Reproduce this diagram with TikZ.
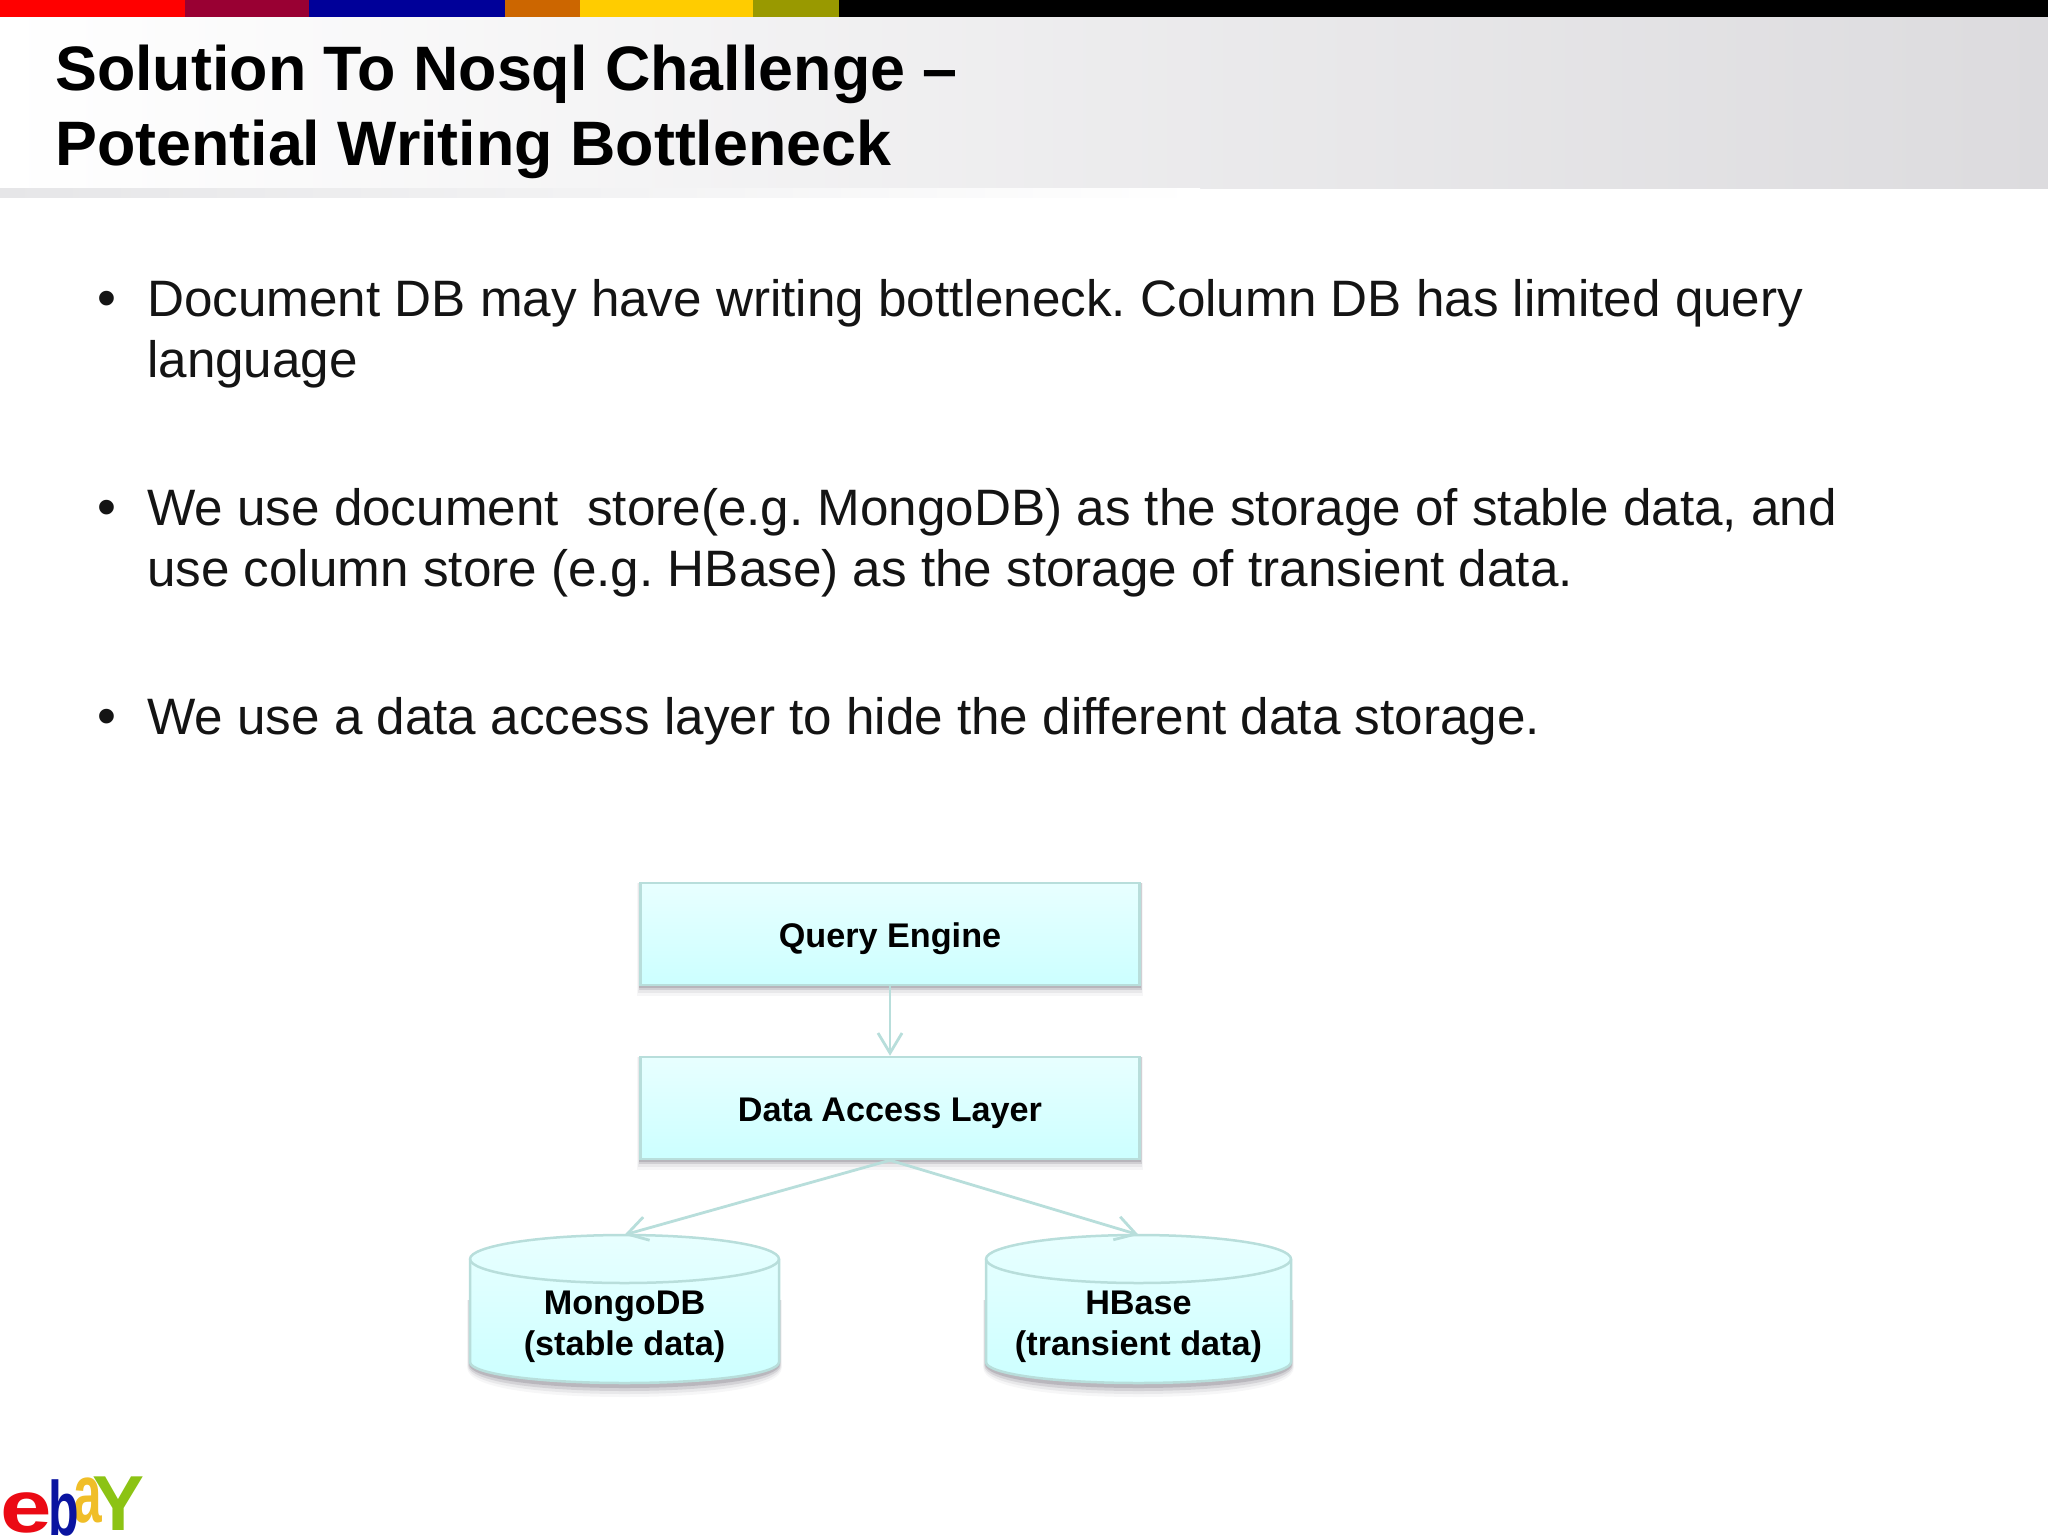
\documentclass[tikz,border=0pt]{standalone}
\usepackage{fontspec}
\setmainfont{Liberation Sans}
\usetikzlibrary{arrows.meta}
\frenchspacing
\definecolor{edgeC}{HTML}{B8DEDB}
\definecolor{boxTop}{HTML}{E8FFFF}
\definecolor{boxBot}{HTML}{CCFFFF}
\definecolor{shadowC}{HTML}{8A8690}
\definecolor{headR}{HTML}{DCDBDE}
\definecolor{stripL}{HTML}{E6E6E8}
\tikzset{
  x=1pt,y=-1pt,
  titletext/.style={anchor=base west,inner sep=0pt,align=left,font=\fontsize{62.8}{75}\selectfont\bfseries},
  bodytext/.style={anchor=base west,inner sep=0pt,align=left,font=\fontsize{51.2}{61.5}\selectfont,text=black!92},
  bulletdot/.style={anchor=base west,inner sep=0pt,font=\fontsize{54}{61.5}\selectfont,text=black!92},
  diagbox/.style={draw=edgeC,line width=2.5pt,top color=boxTop,bottom color=boxBot,minimum width=499pt,minimum height=102pt,inner sep=0pt,text height=34.5pt,text depth=7.5pt,font=\fontsize{34.2}{41}\selectfont\bfseries},
  dbtext/.style={inner sep=0pt,align=center,font=\fontsize{34.2}{41}\selectfont\bfseries},
  conn/.style={draw=edgeC,line width=2.8pt,-{Straight Barb[length=20pt,width=24pt,line width=2.8pt]}},
  logoletter/.style={anchor=base west,inner sep=0pt,font=\bfseries},
}
\newcommand{\softshadow}[4]{%
  \foreach \d/\o in {11/.07,8/.12,5/.25,3/.35}{
    \fill[shadowC,opacity=\o] (#1-\d*.3,#2) rectangle (#3+\d*.3,#4+\d);
  }}
\newcommand{\dbshape}[2]{% left, right
  \pgfmathsetmacro{\rx}{(#2-#1)/2}
  \pgfmathsetmacro{\cx}{(#1+#2)/2}
  \pgfmathsetmacro{\kx}{\rx*.5523}
  \foreach \d/\o in {14/.07,11/.12,8/.22,5/.35}{
    \fill[shadowC,opacity=\o] (#1-\d*.2,1300) -- (#1-\d*.2,1362+\d*.4)
      .. controls (#1-\d*.2,1374+\d) and (\cx-\kx,1383+\d) .. (\cx,1383+\d)
      .. controls (\cx+\kx,1383+\d) and (#2+\d*.2,1374+\d) .. (#2+\d*.2,1362+\d*.4)
      -- (#2+\d*.2,1300) -- cycle;
  }
  \path[draw=edgeC,line width=2.5pt,top color=boxTop,bottom color=boxBot]
    (#1,1259) .. controls (#1,1246) and (\cx-\kx,1235) .. (\cx,1235)
    .. controls (\cx+\kx,1235) and (#2,1246) .. (#2,1259)
    -- (#2,1362) .. controls (#2,1374) and (\cx+\kx,1383) .. (\cx,1383)
    .. controls (\cx-\kx,1383) and (#1,1374) .. (#1,1362) -- cycle;
  \draw[edgeC,line width=2.5pt] (#1,1259) .. controls (#1,1272) and (\cx-\kx,1283) .. (\cx,1283)
    .. controls (\cx+\kx,1283) and (#2,1272) .. (#2,1259);
}
\begin{document}
\begin{tikzpicture}
\useasboundingbox (0,0) rectangle (2048,1536);
\fill[white] (0,0) rectangle (2048,1536);
% header
\shade[left color=white,right color=headR] (0,17) rectangle (2048,188);
\shade[left color=stripL,right color=white] (0,188) rectangle (1200,197);
\fill[red] (0,0) rectangle (185,17);
\fill[black] (839,0) rectangle (2048,17);
\fill[fill={rgb,255:red,153;green,0;blue,51}] (185,0) rectangle (309,17);
\fill[fill={rgb,255:red,0;green,0;blue,153}] (309,0) rectangle (505,17);
\fill[fill={rgb,255:red,204;green,102;blue,0}] (505,0) rectangle (580,17);
\fill[fill={rgb,255:red,255;green,204;blue,0}] (580,0) rectangle (753,17);
\fill[fill={rgb,255:red,153;green,153;blue,0}] (753,0) rectangle (839,17);
\node[titletext] (title) at (55,165) {Solution To Nosql Challenge –\\Potential Writing Bottleneck};
% bullets
\node[bulletdot] (b1) at (97,316) {•};
\node[bodytext] (t1) at (147,377.5) {Document DB may have writing bottleneck. Column DB has limited query\\language};
\node[bulletdot] (b2) at (97,525) {•};
\node[bodytext] (t2) at (147,586.5) {We use document\ \ store(e.g. MongoDB) as the storage of stable data, and\\use column store (e.g. HBase) as the storage of transient data.};
\node[bulletdot] (b3) at (97,734) {•};
\node[bodytext] (t3) at (147,734) {We use a data access layer to hide the different data storage.};
% diagram
\softshadow{640}{883}{1140}{985}
\softshadow{640}{1057}{1140}{1159}
\node[diagbox] (qe) at (890,934) {Query Engine};
\node[diagbox] (dal) at (890,1108) {Data Access Layer};
\dbshape{470}{779}
\dbshape{986}{1291}
\node[minimum width=309pt,minimum height=148pt,inner sep=0pt] (mongo) at (624.5,1309) {};
\node[minimum width=305pt,minimum height=148pt,inner sep=0pt] (hbase) at (1138.5,1309) {};
\node[dbtext] (mongotxt) at (624.5,1327) {MongoDB\\(stable data)};
\node[dbtext] (hbasetxt) at (1138.5,1327) {HBase\\(transient data)};
\draw[conn] (qe.south) -- (dal.north);
\draw[conn] (dal.south) -- (mongo.north);
\draw[conn] (dal.south) -- (hbase.north);
% logo
\node[logoletter,text={rgb,255:red,235;green,10;blue,20}] (le) at (0,1532) {\fontsize{74}{74}\selectfont\scalebox{1.25}[1]{e}};
\node[logoletter,text={rgb,255:red,240;green,190;blue,40}] (la) at (73,1522) {\fontsize{83}{83}\selectfont\scalebox{.62}[1]{a}};
\node[logoletter,text={rgb,255:red,140;green,195;blue,20}] (ly) at (92,1530) {\fontsize{78}{78}\selectfont\scalebox{1}[1]{Y}};
\node[logoletter,text={rgb,255:red,10;green,20;blue,160}] (lb) at (48,1535) {\fontsize{77}{77}\selectfont\scalebox{.65}[1]{b}};
\end{tikzpicture}
\end{document}
